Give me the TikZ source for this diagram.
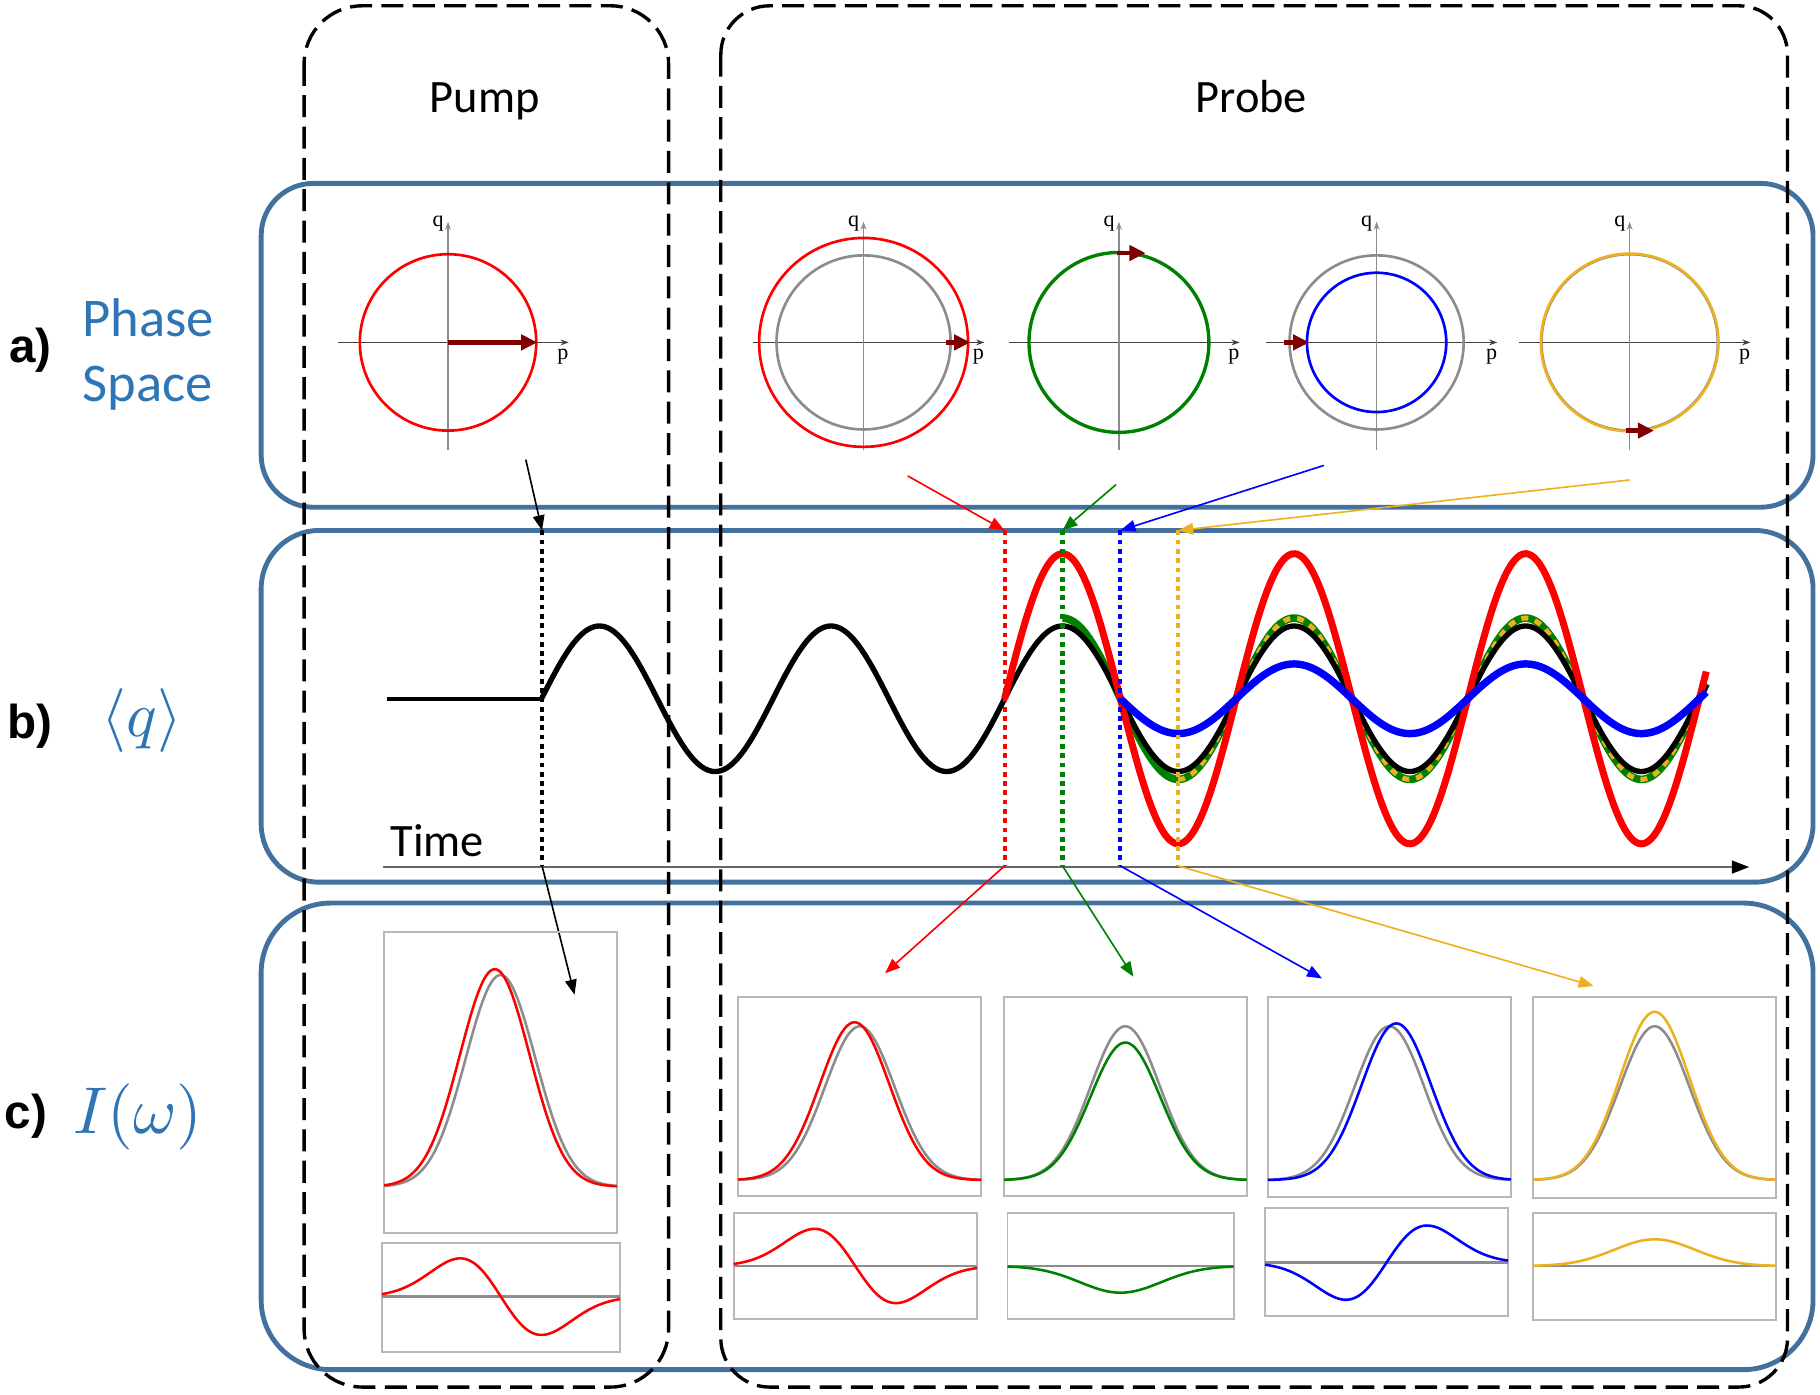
\documentclass[tikz,border=0pt]{standalone}
\usepackage{fontspec}
\setmainfont{Carlito}
\newfontfamily\labfont{Liberation Sans}
\newfontfamily\axfont{Liberation Serif}
\usetikzlibrary{arrows.meta}
\definecolor{frameblue}{HTML}{41719C}
\definecolor{labelblue}{HTML}{2E75B6}
\definecolor{darkred}{HTML}{800000}
\definecolor{pgreen}{HTML}{008000}
\definecolor{pgold}{HTML}{EDB120}
\begin{document}
\begin{tikzpicture}[x=1pt, y=-1pt,
    frame/.style={draw=frameblue, line width=4.2pt},
    group/.style={draw=black, line width=2.9pt, dash pattern=on 19pt off 8pt},
    axp/.style={draw=black!75, line width=1.3pt, -{Stealth[length=7pt,width=5pt]}},
    axq/.style={draw=black!45, line width=1.2pt, -{Stealth[length=7pt,width=5pt]}},
    axlab/.style={font=\axfont\fontsize{19}{22}\selectfont, inner sep=0pt},
    orbit/.style={line width=2.3pt},
    dir/.style={draw=darkred, line width=4pt, -{Triangle[length=14pt,width=13pt]}},
    wave/.style={line width=5pt, line join=round},
    dotline/.style={line width=3.6pt, dash pattern=on 4pt off 4pt},
    link/.style={line width=1.4pt, -{Triangle[length=13pt,width=10pt]}},
    plotbox/.style={draw=black!28, line width=1.6pt},
    spec/.style={line width=2.2pt},
    head/.style={font=\fontsize{40}{48}\selectfont},
    lab/.style={font=\labfont\bfseries\fontsize{41}{48}\selectfont},
    blab/.style={text=labelblue, font=\fontsize{47}{56}\selectfont},
    mlab/.style={text=labelblue}]
\useasboundingbox (0,0) rectangle (1568,1201);

% row frames
\draw[frame, rounded corners=45pt] (225,158) rectangle (1562,437);
\draw[frame, rounded corners=50pt] (225,457) rectangle (1562,760);
\draw[frame, rounded corners=60pt] (225,778) rectangle (1562,1180);

% titles and row labels
\node[head, anchor=base] (pump) at (417.5,96.5) {Pump};
\node[head, anchor=base] (probe) at (1078,96.5) {Probe};
\node[lab] (laba) at (26,302) {a)};
\node[blab, anchor=base] (phase) at (127.5,289.5) {Phase};
\node[blab, anchor=base] (space) at (127.5,346) {Space};
\node[lab] (labb) at (26,626) {b)};
\node[mlab, scale=5.5] (qmean) at (122.5,621) {$\langle q\rangle$};
\node[lab] (labc) at (22.5,962) {c)};
\node[mlab, scale=5.7] (iomega) at (118.7,962) {$I(\omega)$};

% a) phase space
\foreach \cx/\idx in {386/1, 744/2, 964/3, 1186/4, 1404/5} {
  \draw[axp] (\cx-95,295) -- (\cx+104,295);
  \draw[axq] (\cx,388) -- (\cx,191);
  \node[axlab] (q\idx) at (\cx-8.5,193) {q};
  \node[axlab] (p\idx) at (\cx+99,307) {p};
}
\draw[orbit, red] (386,295) circle[radius=76];
\draw[dir, line width=5pt] (386,295) -- (463,295);
\draw[orbit, black!45] (744,295) circle[radius=75];
\draw[orbit, red] (744,295) circle[radius=90];
\draw[dir] (815,295) -- (836,295);
\draw[orbit, pgreen, line width=2.9pt] (964,295) circle[radius=77.5];
\draw[dir] (962,218) -- (987,218);
\draw[orbit, black!45] (1186,295) circle[radius=75];
\draw[orbit, blue] (1186,295) circle[radius=60];
\draw[dir] (1106,295) -- (1128,295);
\draw[orbit, black!45] (1404,295) circle[radius=76];
\draw[orbit, pgold] (1404,295) circle[radius=76.5];
\draw[dir] (1401,371) -- (1425,371);

% b) mean position
\coordinate (tstart) at (330,747);
\coordinate (tend) at (1507,747);
\draw[line width=2pt, black!60, -{Triangle[length=15pt,width=11pt,black]}] (tstart) -- (tend);
\node[head, anchor=base west] (time) at (333,738) {Time};
\draw[black, line width=3.2pt] (333,602) -- (467,602);
\draw[wave, pgreen, line width=6.6pt] plot[domain=915.4:1470, samples=240] (\x, {602-69.5*sin(1.804511*(\x-466.5))});
\draw[wave, pgold, line width=4.2pt, dash pattern=on 6pt off 6pt] plot[domain=1015:1470, samples=200] (\x, {602-69.5*sin(1.804511*(\x-466.5))});
\draw[wave, black, line width=4.6pt] plot[domain=466.5:1470, samples=400] (\x, {602-62.7*sin(1.804511*(\x-466.5))});
\draw[wave, red, line width=6pt] plot[domain=865.5:1470, samples=250] (\x, {602-125*sin(1.804511*(\x-466.5))});
\draw[wave, blue, line width=6.4pt] plot[domain=965.25:1470, samples=220] (\x, {602-30*sin(1.804511*(\x-466.5))});

\foreach \xx/\col/\idx in {467/black/0, 865.5/red/1, 915.4/pgreen/2, 965.25/blue/3, 1015/pgold/4} {
  \coordinate (t\idx) at (\xx,457);
  \coordinate (u\idx) at (\xx,746);
  \draw[dotline, \col] (t\idx) -- (u\idx);
}

% links between rows
\coordinate (s0) at (453,396);
\coordinate (s1) at (782,410);
\coordinate (s2) at (961.5,417.5);
\coordinate (s3) at (1140.5,401);
\coordinate (s4) at (1404,413.5);
\coordinate (e0) at (495,857);
\coordinate (e1) at (762.5,838.5);
\coordinate (e2) at (976.5,841.5);
\coordinate (e3) at (1139,843);
\coordinate (e4) at (1373,849.5);
\foreach \idx/\col in {0/black, 1/red, 2/pgreen, 3/blue, 4/pgold} {
  \draw[link, \col] (s\idx) -- (t\idx);
  \draw[link, \col] (u\idx) -- (e\idx);
}

% c) spectra
\foreach \lx/\rx/\ty/\by/\base/\gamp/\col/\dc/\amp in {
    331/531.5/802.7/1062/1022.4/182.4/red/-5/187.4,
    636/845.5/859/1030.5/1016.7/132.5/red/-4.5/136,
    865/1074/859/1030.5/1016.7/132.5/pgreen/0/118.5,
    1092.4/1301.6/859/1031/1016.7/132.5/blue/6/135,
    1320.7/1530.4/859/1032/1016.7/132.5/pgold/0/145} {
  \draw[plotbox] (\lx,\ty) rectangle (\rx,\by);
  \pgfmathsetmacro\cc{(\lx+\rx)/2}
  \pgfmathsetmacro\cs{\cc+(\dc)}
  \draw[spec, black!45] plot[domain=\lx:\rx, samples=90] (\x, {\base-\gamp*exp(-((\x-\cc)*(\x-\cc))/1800)});
  \draw[spec, \col] plot[domain=\lx:\rx, samples=90] (\x, {\base-\amp*exp(-((\x-\cs)*(\x-\cs))/1800)});
}
\foreach \lx/\rx/\ty/\by/\z/\col/\kd/\kg in {
    329/534/1071.2/1164.5/1117.1/red/33/0,
    632/841.7/1044.8/1136.7/1090.7/red/32/0,
    868/1062.8/1044.8/1136.7/1090.7/pgreen/0/-23,
    1089.9/1299.1/1041/1133.8/1087.8/blue/-32/0,
    1320.7/1530.4/1044.8/1137.3/1090.7/pgold/0/23} {
  \draw[plotbox] (\lx,\ty) rectangle (\rx,\by);
  \pgfmathsetmacro\cc{(\lx+\rx)/2}
  \draw[spec, black!45] (\lx,\z) -- (\rx,\z);
  \draw[spec, \col] plot[domain=\lx:\rx, samples=90] (\x, {\z-(\kd)*((\cc-\x)/35)*exp(0.5-((\x-\cc)*(\x-\cc))/2450)-(\kg)*exp(-((\x-\cc)*(\x-\cc))/2450)});
}

% pump / probe groups
\draw[group, rounded corners=50pt] (262,5) rectangle (576,1195);
\draw[group, rounded corners=42pt] (621,5) rectangle (1540,1195);
\end{tikzpicture}
\end{document}
